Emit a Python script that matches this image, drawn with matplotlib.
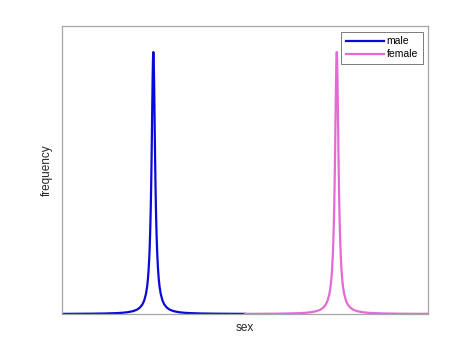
import matplotlib
matplotlib.use('Agg')
import matplotlib.pyplot as plt

plt.rcParams['font.family'] = ['Liberation Sans', 'DejaVu Sans']

# values (x position in [0, 1], frequency)
male_x = [0.0, 0.04, 0.08, 0.12, 0.15, 0.165, 0.18, 0.195, 0.205, 0.213, 0.22,
          0.225, 0.23, 0.233, 0.235, 0.237, 0.239, 0.2405, 0.242, 0.243, 0.244,
          0.245, 0.246, 0.247, 0.248, 0.249, 0.25,
          0.251, 0.252, 0.253, 0.254, 0.255, 0.256, 0.257, 0.258, 0.2595, 0.261,
          0.263, 0.265, 0.267, 0.27, 0.275, 0.28, 0.287, 0.295, 0.305, 0.32,
          0.335, 0.35, 0.38, 0.42, 0.46, 0.50]
female_x = [0.50, 0.54, 0.58, 0.62, 0.65, 0.665, 0.68, 0.695, 0.705, 0.713, 0.72,
            0.725, 0.73, 0.733, 0.735, 0.737, 0.739, 0.7405, 0.742, 0.743, 0.744,
            0.745, 0.746, 0.747, 0.748, 0.749, 0.75,
            0.751, 0.752, 0.753, 0.754, 0.755, 0.756, 0.757, 0.758, 0.7595, 0.761,
            0.763, 0.765, 0.767, 0.77, 0.775, 0.78, 0.787, 0.795, 0.805, 0.82,
            0.835, 0.85, 0.88, 0.92, 0.96, 1.00]
male_y = [0.0005, 0.0008, 0.0012, 0.0020, 0.0034, 0.0046, 0.0068, 0.0110, 0.0163,
          0.0240, 0.0360, 0.0511, 0.0776, 0.104, 0.130, 0.166, 0.218, 0.272, 0.345,
          0.407, 0.483, 0.574, 0.678, 0.789, 0.894, 0.971, 1.0,
          0.971, 0.894, 0.789, 0.678, 0.574, 0.483, 0.407, 0.345, 0.272, 0.218,
          0.166, 0.130, 0.104, 0.0776, 0.0511, 0.0360, 0.0240, 0.0163, 0.0110,
          0.0068, 0.0046, 0.0034, 0.0020, 0.0012, 0.0008, 0.0005]
female_y = [0.0005, 0.0008, 0.0012, 0.0020, 0.0034, 0.0046, 0.0068, 0.0110, 0.0163,
            0.0240, 0.0360, 0.0511, 0.0776, 0.104, 0.130, 0.166, 0.218, 0.272, 0.345,
            0.407, 0.483, 0.574, 0.678, 0.789, 0.894, 0.971, 1.0,
            0.971, 0.894, 0.789, 0.678, 0.574, 0.483, 0.407, 0.345, 0.272, 0.218,
            0.166, 0.130, 0.104, 0.0776, 0.0511, 0.0360, 0.0240, 0.0163, 0.0110,
            0.0068, 0.0046, 0.0034, 0.0020, 0.0012, 0.0008, 0.0005]

fig = plt.figure(figsize=(4.74, 3.54), dpi=100)
ax = fig.add_axes([0.130, 0.113, 0.774, 0.814])

ax.plot(male_x, male_y, color='#0a0ad8', lw=1.6, label='male')
ax.plot(female_x, female_y, color='#e46ad6', lw=1.6, label='female')

ax.set_xlim(0, 1)
ax.set_ylim(0, 1.1)
ax.set_xticks([])
ax.set_yticks([])
for s in ax.spines.values():
    s.set_color('#a6a6a6')
    s.set_linewidth(0.9)

ax.set_xlabel('sex', fontsize=8.5, color='#262626', labelpad=6)
ax.set_ylabel('frequency', fontsize=8.5, color='#262626', labelpad=6)

leg = ax.legend(loc='upper right', fontsize=7.5, frameon=True, fancybox=False,
                edgecolor='#404040', handlelength=3.6, handletextpad=0.3,
                borderpad=0.45, labelspacing=0.3, borderaxespad=0.55)
leg.get_frame().set_linewidth(0.6)

fig.savefig('out.png', dpi=100)
